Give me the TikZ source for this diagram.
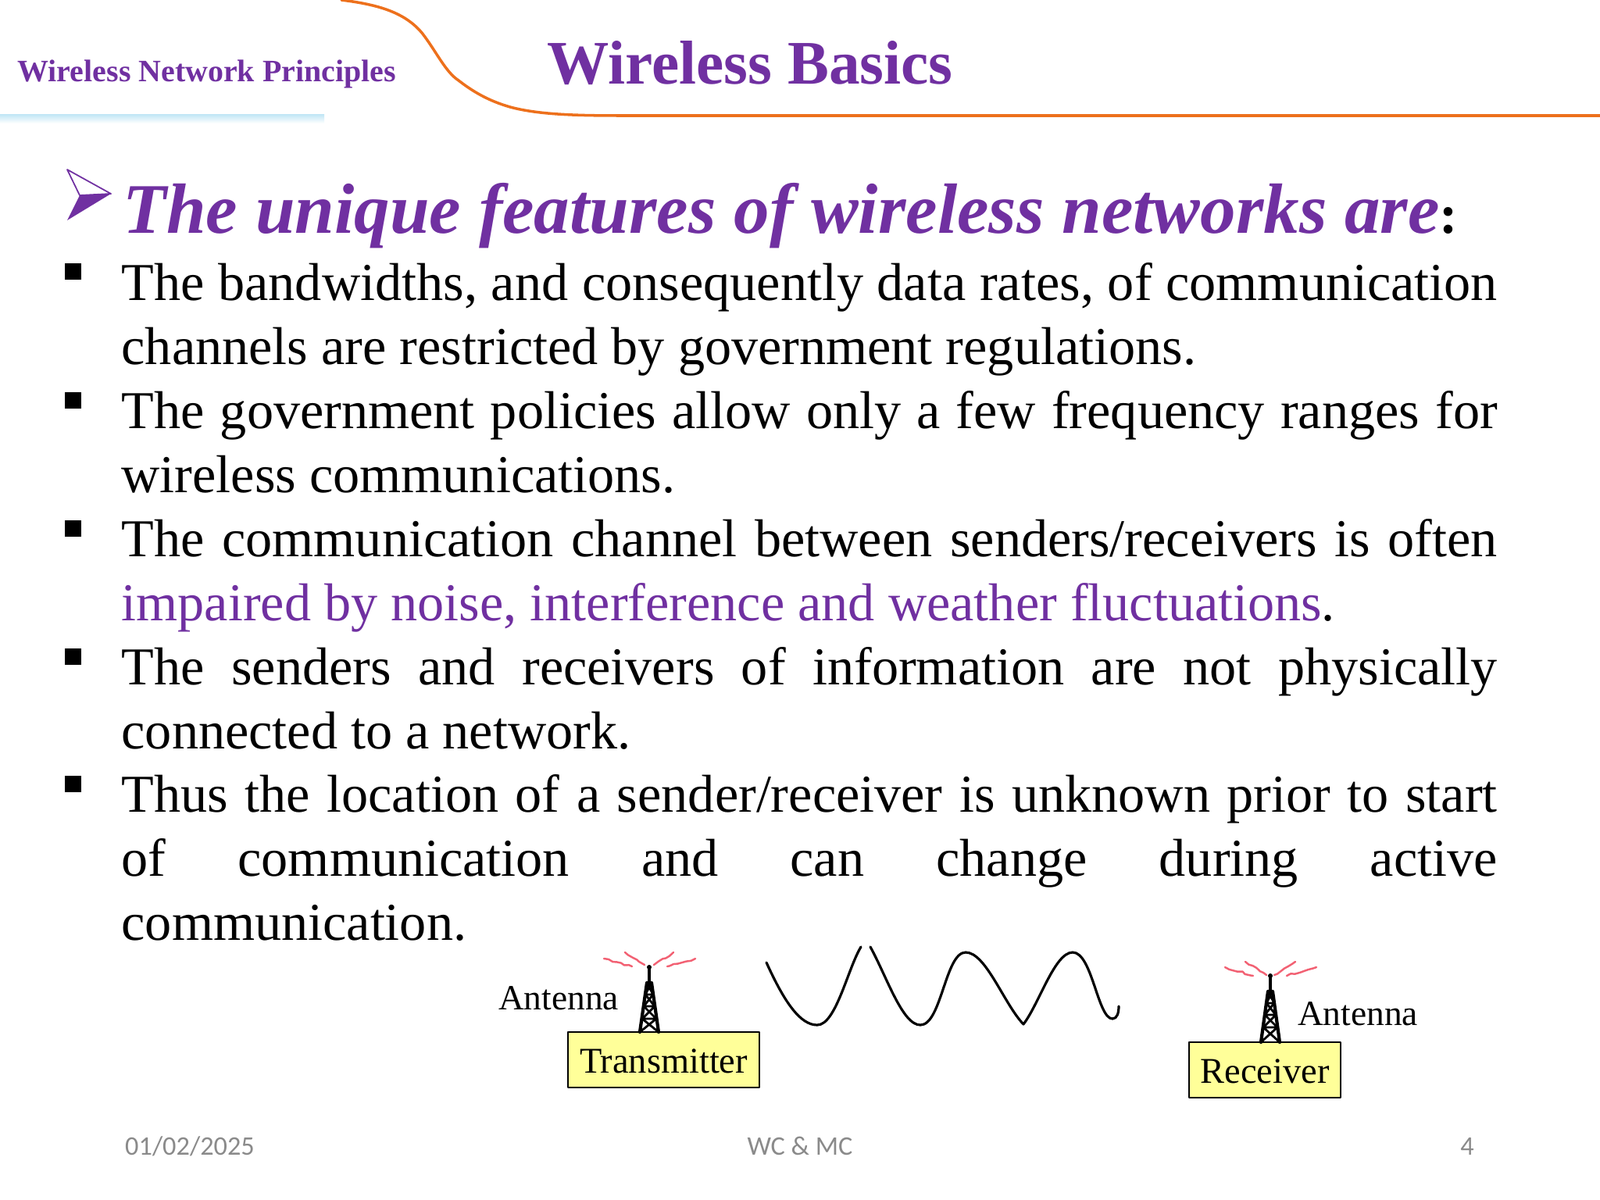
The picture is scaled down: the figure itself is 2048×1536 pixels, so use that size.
\documentclass[tikz,border=0pt]{standalone}
\usepackage{fontspec}
\setmainfont{Liberation Serif}
\newfontfamily\footfont{Carlito}
\usepackage{tikz}
\usetikzlibrary{arrows.meta}
\usetikzlibrary{decorations.pathmorphing}
\definecolor{slidepurple}{rgb}{0.44,0.19,0.63}
\definecolor{curveorange}{rgb}{0.93,0.44,0.11}
\definecolor{footgray}{rgb}{0.54,0.54,0.54}
\definecolor{boxyellow}{rgb}{1,1,0.6}
\definecolor{signalred}{rgb}{0.95,0.38,0.45}
\definecolor{shadowblue}{rgb}{0.75,0.90,0.96}
\tikzset{
  bodyline/.style={inner sep=0pt,anchor=base west,text width=17.6cm,align=justify,
    font=\fontsize{19.4}{23.33}\selectfont},
  sqbullet/.style={fill=black,inner sep=0pt,minimum size=0.21cm},
  footlabel/.style={inner sep=0pt,anchor=base,text=footgray,font=\footfont\fontsize{9.75}{11}\selectfont},
  dialabel/.style={inner sep=0pt,anchor=base,font=\fontsize{12.9}{14}\selectfont},
  devbox/.style={draw=black,line width=0.5pt,fill=boxyellow,inner sep=0pt,text height=0.34cm,text depth=0pt,
    font=\fontsize{13.2}{15}\selectfont},
  signal/.style={signalred,line width=0.7pt,decorate,decoration={random steps,segment length=1.6pt,amplitude=0.35pt}},
  wave/.style={line width=0.9pt}
}
\begin{document}
\begin{tikzpicture}[line cap=round,line join=round, x=0.01cm,y=-0.01cm]
\useasboundingbox (0,0) rectangle (2048,1536);
% header
\shade [top color=shadowblue,bottom color=white] (0,146) rectangle (415,158);
\draw [curveorange, line width=1pt] (437,0) .. controls (485,6) and (518,16) .. (540,42)
  .. controls (558,65) and (570,92) .. (587,103)
  .. controls (605,117) and (625,129) .. (653,137)
  .. controls (690,147) and (740,148) .. (800,148) -- (2048,148);
\node [inner sep=0pt,anchor=base west,text=slidepurple,font=\bfseries\fontsize{11.35}{14}\selectfont] (section) at (22,104) {Wireless Network Principles};
\node [inner sep=0pt,anchor=base west,text=slidepurple,font=\bfseries\fontsize{22.55}{26}\selectfont] (title) at (700,107) {Wireless Basics};
% heading
\fill [slidepurple] (86,282) -- (142,248) -- (102,250) -- cycle;
\draw [slidepurple, line width=0.5pt] (86,217) -- (142,248) -- (102,250) -- cycle;
\node [inner sep=0pt,anchor=base west,font=\bfseries\fontsize{25.9}{28}\selectfont] (heading) at (157,298) {\textcolor{slidepurple}{\itshape The unique features of wireless networks are}{\fontsize{20}{28}\selectfont :}};
% bullets
\node [bodyline] (b1) at (155,384) {The bandwidths, and consequently data rates, of communication\linebreak channels are restricted by government regulations.};
\node [bodyline] (b2) at (155,548) {The government policies allow only a few frequency ranges for\linebreak wireless communications.};
\node [bodyline] (b3) at (155,712) {The communication channel between senders/receivers is often\linebreak \textcolor{slidepurple}{impaired by noise, interference and weather fluctuations}.};
\node [bodyline] (b4) at (155,876) {The senders and receivers of information are not physically\linebreak connected to a network.};
\node [bodyline] (b5) at (155,1039.5) {Thus the location of a sender/receiver is unknown prior to start\linebreak of communication and can change during active\linebreak communication.};
\foreach \n/\y in {1/347.5,2/512,3/676,4/840,5/1003}
  \node [sqbullet] (sq\n) at (93.5,\y) {};
% transmitter side
\node [devbox,minimum width=2.45cm,minimum height=0.71cm] (tx) at (849.5,1356.5) {Transmitter};
\node [dialabel] (txant) at (715,1292) {Antenna};
% receiver side
\node [devbox,minimum width=1.94cm,minimum height=0.71cm] (rx) at (1619,1369.5) {Receiver};
\node [dialabel] (rxant) at (1738,1312) {Antenna};
% towers
\foreach \tx/\ty/\by in {831/1238/1321,1626/1249/1334}{
  \begin{scope}[shift={(\tx,\ty)}]
    \pgfmathsetmacro{\h}{\by-\ty}
    \draw [line width=0.9pt] (0,0) -- (0,20);
    \fill (0,0) circle (3);
    \draw [line width=1.2pt] (-3,20) -- (-12,\h) (3,20) -- (12,\h) (-3,20) -- (3,20);
    \draw [line width=0.8pt] (-5,35) -- (5,35) (-3,20) -- (5,35) (3,20) -- (-5,35)
      (-5,35) -- (7,50) (5,35) -- (-7,50) (-7,50) -- (7,50)
      (-7,50) -- (9,66) (7,50) -- (-9,66) (-9,66) -- (9,66)
      (-9,66) -- (12,\h) (9,66) -- (-12,\h);
  \end{scope}
}
% radio signal
\draw [signal] (773,1227) -- (809,1237);
\draw [signal] (800,1219) -- (825,1235);
\draw [signal] (862,1219) -- (837,1235);
\draw [signal] (890,1227) -- (854,1237);
\draw [signal] (1568,1238) -- (1604,1249);
\draw [signal] (1594,1231) -- (1621,1248);
\draw [signal] (1658,1231) -- (1631,1248);
\draw [signal] (1685,1238) -- (1647,1249);
% wave
\draw [wave] (981,1232) .. controls (1005,1285) and (1025,1312) .. (1046,1312)
  .. controls (1070,1312) and (1085,1240) .. (1102,1212);
\draw [wave] (1114,1212) .. controls (1135,1250) and (1155,1312) .. (1178,1312)
  .. controls (1205,1312) and (1210,1219) .. (1236,1219)
  .. controls (1262,1219) and (1285,1285) .. (1310,1311)
  .. controls (1330,1285) and (1350,1219) .. (1373,1219)
  .. controls (1398,1219) and (1405,1304) .. (1424,1304)
  .. controls (1430,1304) and (1432,1296) .. (1432,1288);
% footer
\node [footlabel] (date) at (243,1478) {01/02/2025};
\node [footlabel] (course) at (1024,1478) {WC \& MC};
\node [footlabel] (page) at (1878,1478) {4};
\end{tikzpicture}
\end{document}
